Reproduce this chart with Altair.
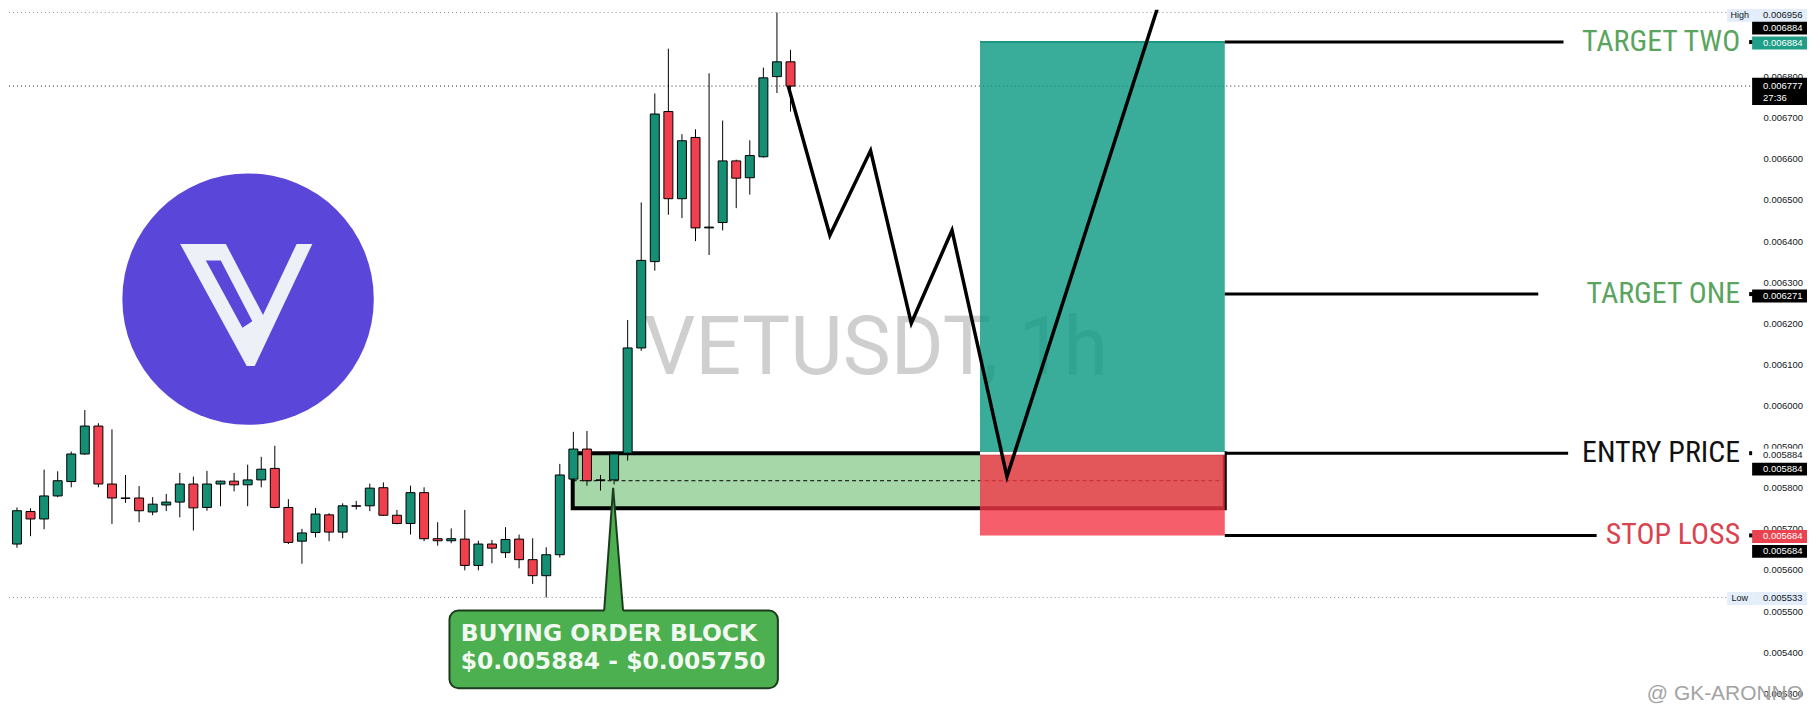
import altair as alt
import pandas as pd

# ---------------- data ----------------
opens = [0.005592, 0.005663, 0.005742, 0.005724, 0.005780, 0.005815, 0.005882, 0.005950, 0.005809, 0.005775,
         0.005775, 0.005741, 0.005758, 0.005765, 0.005809, 0.005752, 0.005809, 0.005816, 0.005807, 0.005819,
         0.005847, 0.005752, 0.005670, 0.005691, 0.005734, 0.005692, 0.005756, 0.005756, 0.005800, 0.005733,
         0.005713, 0.005788, 0.005676, 0.005671, 0.005675, 0.005611, 0.005663, 0.005642, 0.005675, 0.005625,
         0.005586, 0.005637, 0.005821, 0.005894, 0.005818, 0.005819, 0.005884, 0.006140, 0.006350, 0.006715,
         0.006503, 0.006652, 0.006432, 0.006445, 0.006595, 0.006554, 0.006605, 0.006800, 0.006836]
highs = [0.005669, 0.005752, 0.005750, 0.005844, 0.005840, 0.005888, 0.005989, 0.005957, 0.005942, 0.005831,
         0.005804, 0.005777, 0.005785, 0.005836, 0.005827, 0.005841, 0.005817, 0.005836, 0.005856, 0.005875,
         0.005902, 0.005772, 0.005700, 0.005751, 0.005738, 0.005762, 0.005768, 0.005810, 0.005813, 0.005746,
         0.005805, 0.005801, 0.005716, 0.005701, 0.005746, 0.005671, 0.005673, 0.005704, 0.005686, 0.005677,
         0.005655, 0.005858, 0.005936, 0.005938, 0.005831, 0.005882, 0.006208, 0.006494, 0.006759, 0.006868,
         0.006660, 0.006672, 0.006808, 0.006693, 0.006598, 0.006645, 0.006822, 0.006956, 0.006865]
lows = [0.005574, 0.005654, 0.005682, 0.005699, 0.005777, 0.005801, 0.005880, 0.005801, 0.005712, 0.005763,
        0.005716, 0.005733, 0.005743, 0.005728, 0.005696, 0.005744, 0.005755, 0.005791, 0.005755, 0.005801,
        0.005750, 0.005663, 0.005615, 0.005679, 0.005670, 0.005677, 0.005747, 0.005743, 0.005732, 0.005711,
        0.005686, 0.005670, 0.005659, 0.005665, 0.005599, 0.005599, 0.005616, 0.005629, 0.005604, 0.005566,
        0.005533, 0.005630, 0.005821, 0.005805, 0.005793, 0.005808, 0.005866, 0.006133, 0.006328, 0.006464,
        0.006456, 0.006400, 0.006366, 0.006426, 0.006480, 0.006513, 0.006603, 0.006760, 0.006715]
closes = [0.005663, 0.005744, 0.005724, 0.005780, 0.005817, 0.005882, 0.005950, 0.005809, 0.005775, 0.005774,
          0.005744, 0.005760, 0.005765, 0.005809, 0.005751, 0.005809, 0.005816, 0.005807, 0.005819, 0.005845,
          0.005752, 0.005667, 0.005690, 0.005736, 0.005692, 0.005756, 0.005755, 0.005799, 0.005733, 0.005713,
          0.005788, 0.005676, 0.005671, 0.005676, 0.005611, 0.005663, 0.005653, 0.005674, 0.005625, 0.005586,
          0.005637, 0.005831, 0.005894, 0.005817, 0.005819, 0.005882, 0.006140, 0.006353, 0.006709, 0.006503,
          0.006644, 0.006432, 0.006434, 0.006595, 0.006553, 0.006608, 0.006797, 0.006836, 0.006777]

# projected path (bar index, price)
path_idx = [57.83, 60.9, 63.9, 66.9, 69.9, 73.95, 85.9]
path_price = [0.006777, 0.006414, 0.006620, 0.006200, 0.006426, 0.005827, 0.007055]

TARGET_TWO = 0.006884
TARGET_ONE = 0.006271
ENTRY = 0.005884
STOP = 0.005684
OB_LOW = 0.005750
OB_MID = 0.005817
HIGH = 0.006956
LOW = 0.005533
LAST = 0.006777
TIMER = "27:36"

# 0.006900 is fully hidden behind the price tags in the reference
tick_vals = [0.0053, 0.0054, 0.0055, 0.0056, 0.0057, 0.0058, 0.0059, 0.0060, 0.0061,
             0.0062, 0.0063, 0.0064, 0.0065, 0.0066, 0.0067, 0.0068]

# drawing spans in bar-index units
OB_START = 41.95
POS_START = 71.96
POS_END = 90.0
level_names = ["TARGET TWO", "TARGET ONE", "ENTRY PRICE", "STOP LOSS"]
level_prices = [TARGET_TWO, TARGET_ONE, ENTRY, STOP]
level_line_end = [114.96, 113.1, 115.3, 117.4]
level_colors = ["#5aa55e", "#5aa55e", "#111111", "#d9434f"]

# callout box / pointer (bar index, price)
callout_x = [32.87, 57.07]
callout_p = [0.0053121, 0.0055014]
pointer_x = [44.27, 44.93, 45.66]
pointer_p = [0.0055014, 0.0057998, 0.0055014]
callout_lines = ["BUYING ORDER BLOCK", "$0.005884 - $0.005750"]
callout_text_x = 33.70
callout_text_p = [0.0054449, 0.0053760]

# ---------------- scales ----------------
W, H = 1747, 690
XS = alt.Scale(domain=[0.781, 128.49], nice=False, zero=False)
YS = alt.Scale(domain=[0.0052879, 0.0069626], nice=False, zero=False)
yaxis = alt.Axis(orient="right", values=tick_vals, format=".6f", title=None, ticks=False,
                 domain=False, grid=False, labelPadding=11, labelFont="Liberation Sans",
                 labelFontSize=9.5, labelColor="#131722", labelFlush=False, labelOverlap=False)


def X(f):
    return alt.X(f, type="quantitative", scale=XS, axis=None)


def Y(f):
    return alt.Y(f, type="quantitative", scale=YS, axis=yaxis)


layers = []

# dotted reference lines
dots = pd.DataFrame({"p": [HIGH, LOW]})
layers.append(alt.Chart(dots).mark_rule(color="#9598a1", strokeWidth=1, strokeDash=[1, 3]).encode(
    x=alt.value(0), x2=alt.value(1722), y=Y("p")))
layers.append(alt.Chart(pd.DataFrame({"p": [LAST]})).mark_rule(color="#222222", strokeWidth=1, strokeDash=[1, 3]).encode(
    x=alt.value(0), x2=alt.value(W), y=Y("p")))

# watermark
layers.append(alt.Chart(pd.DataFrame({"i": [64.3], "p": [0.006134], "t": ["VETUSDT, 1h"]})).mark_text(
    font="Roboto", fontSize=81, color="#cfcfcf", align="center", baseline="middle").encode(
    x=X("i"), y=Y("p"), text="t"))

# logo
logo = pd.DataFrame({"i": [18.03], "p": [0.0062587]})
layers.append(alt.Chart(logo).mark_point(shape="circle", size=63504, filled=True, color="#5b46da", opacity=1).encode(
    x=X("i"), y=Y("p")))
VPATH = ("M-0.540,-0.439 L-0.177,-0.439 L0.119,0.127 L0.386,-0.439 L0.511,-0.439 "
         "L0.053,0.532 L-0.011,0.532 Z M-0.336,-0.307 L-0.045,0.228 L0.034,0.175 L-0.217,-0.307 Z")
layers.append(alt.Chart(logo).mark_point(shape=VPATH, size=63504, filled=True, color="#eef0f8", opacity=1).encode(
    x=X("i"), y=Y("p")))

# order block
ob = pd.DataFrame({"x0": [OB_START], "x1": [POS_END], "y0": [OB_LOW], "y1": [ENTRY]})
layers.append(alt.Chart(ob).mark_rect(fill="#a6d7a8", stroke="#000000", strokeWidth=4).encode(
    x=X("x0"), x2="x1", y=Y("y0"), y2="y1"))
layers.append(alt.Chart(pd.DataFrame({"x0": [OB_START], "x1": [POS_END], "p": [OB_MID]})).mark_rule(
    color="#000000", strokeWidth=1, strokeDash=[4, 3]).encode(x=X("x0"), x2="x1", y=Y("p")))

# position boxes
zones = pd.DataFrame({"x0": [POS_START, POS_START], "x1": [POS_END, POS_END],
                      "y0": [ENTRY, STOP], "y1": [TARGET_TWO, ENTRY], "c": ["#089981", "#f23645"]})
layers.append(alt.Chart(zones).mark_rect(opacity=0.8).encode(
    x=X("x0"), x2="x1", y=Y("y0"), y2="y1", color=alt.Color("c:N", scale=None)))
layers.append(alt.Chart(pd.DataFrame({"x0": [POS_START], "x1": [POS_END], "p": [TARGET_TWO]})).mark_rule(
    color="#1f9682", strokeWidth=2).encode(x=X("x0"), x2="x1", y=Y("p")))
layers.append(alt.Chart(pd.DataFrame({"x0": [POS_START], "x1": [POS_END], "p": [ENTRY]})).mark_rule(
    color="#ffffff", strokeWidth=3).encode(x=X("x0"), x2="x1", y=Y("p")))

# level lines on the right
lv = pd.DataFrame({"x0": [POS_END] * 4, "x1": level_line_end, "p": level_prices,
                   "t": level_names, "c": level_colors})
layers.append(alt.Chart(lv).mark_rule(color="#000000", strokeWidth=3).encode(x=X("x0"), x2="x1", y=Y("p")))

# candles
cd = pd.DataFrame({"i": list(range(len(opens))), "o": opens, "h": highs, "l": lows, "c": closes})
cd["col"] = ["#158f74" if c >= o else "#f0404e" for o, c in zip(opens, closes)]
layers.append(alt.Chart(cd).mark_rule(color="#000000", strokeWidth=1, clip=True).encode(
    x=X("i"), y=Y("l"), y2="h"))
layers.append(alt.Chart(cd).mark_bar(size=9, stroke="#000000", strokeWidth=1, clip=True).encode(
    x=X("i"), y=Y("o"), y2="c", fill=alt.Fill("col:N", scale=None)))

# projected path
pp = pd.DataFrame({"i": path_idx, "p": path_price, "k": list(range(len(path_idx)))})
layers.append(alt.Chart(pp).mark_line(color="#000000", strokeWidth=3.5, clip=True, strokeJoin="miter").encode(
    x=X("i"), y=Y("p"), order="k:Q"))

# callout
box = pd.DataFrame({"x0": [callout_x[0]], "x1": [callout_x[1]], "y0": [callout_p[0]], "y1": [callout_p[1]]})
layers.append(alt.Chart(box).mark_rect(fill="#4caf50", stroke="#1d3b1e", strokeWidth=2, cornerRadius=9).encode(
    x=X("x0"), x2="x1", y=Y("y0"), y2="y1"))
ptr = pd.DataFrame({"p": [pointer_p[1], pointer_p[0] - 0.000005],
                    "l": [pointer_x[1], pointer_x[0]], "r": [pointer_x[1], pointer_x[2]]})
layers.append(alt.Chart(ptr).mark_area(orient="horizontal", color="#4caf50", opacity=1).encode(
    y=Y("p"), x=X("l"), x2="r"))
ptr_edge = pd.DataFrame({"i": pointer_x, "p": pointer_p, "k": [0, 1, 2]})
layers.append(alt.Chart(ptr_edge).mark_line(color="#1d3b1e", strokeWidth=2).encode(
    x=X("i"), y=Y("p"), order="k:Q"))
ctext = pd.DataFrame({"i": [callout_text_x] * 2, "p": callout_text_p, "t": callout_lines})
layers.append(alt.Chart(ctext).mark_text(font="DejaVu Sans", fontWeight="bold", fontSize=23.5, color="#f1f8f1",
                                         align="left", baseline="middle").encode(x=X("i"), y=Y("p"), text="t"))

# level labels
layers.append(alt.Chart(lv).mark_text(
    font="Liberation Sans Narrow, Roboto Condensed, DejaVu Sans Condensed, Liberation Sans",
    fontSize=30, align="right", baseline="middle").encode(
    x=alt.value(1735), y=Y("p"), text="t", color=alt.Color("c:N", scale=None)))
layers.append(alt.Chart(lv).mark_square(size=16, color="#000000", opacity=1).encode(
    x=alt.value(1746), y=Y("p")))

# price-scale tags
TAG = "M-1,-0.236 L1,-0.236 L1,0.236 L-1,0.236 Z"
tags = [
    (HIGH, 3, "#e3eefa", "#131722", "0.006956"),
    (TARGET_TWO, -14, "#000000", "#ffffff", "0.006884"),
    (TARGET_TWO, 1, "#1f9e88", "#ffffff", "0.006884"),
    (TARGET_ONE, 2, "#000000", "#ffffff", "0.006271"),
    (ENTRY, 2, "#ffffff", "#131722", "0.005884"),
    (ENTRY, 16, "#000000", "#ffffff", "0.005884"),
    (STOP, 1, "#e8434f", "#ffffff", "0.005684"),
    (STOP, 16, "#000000", "#ffffff", "0.005684"),
    (LOW, 1, "#e3eefa", "#131722", "0.005533"),
]
for price, dy, bg, fg, txt in tags:
    d = pd.DataFrame({"p": [price], "t": [txt]})
    layers.append(alt.Chart(d).mark_point(shape=TAG, size=3025, filled=True, color=bg, opacity=1,
                                          yOffset=dy).encode(x=alt.value(1774.5), y=Y("p")))
    layers.append(alt.Chart(d).mark_text(font="Liberation Sans", fontSize=9.5, color=fg, align="left",
                                         baseline="middle", yOffset=dy).encode(x=alt.value(1758), y=Y("p"), text="t"))

# current price tag (two lines)
cur = pd.DataFrame({"p": [LAST], "t": ["0.006777"], "timer": [TIMER]})
layers.append(alt.Chart(cur).mark_point(shape="M-1,-0.3 L1,-0.3 L1,0.69 L-1,0.69 Z", size=3025, filled=True,
                                        color="#000000", opacity=1).encode(x=alt.value(1774.5), y=Y("p")))
layers.append(alt.Chart(cur).mark_text(font="Liberation Sans", fontSize=9.5, color="#ffffff", align="left",
                                       baseline="middle").encode(x=alt.value(1758), y=Y("p"), text="t"))
layers.append(alt.Chart(cur).mark_text(font="Liberation Sans", fontSize=9.5, color="#ffffff", align="left",
                                       baseline="middle", yOffset=12).encode(x=alt.value(1758), y=Y("p"), text="timer"))

# High / Low markers
for price, dy, txt in [(HIGH, 3, "High"), (LOW, 1, "Low")]:
    d = pd.DataFrame({"p": [price], "t": [txt]})
    layers.append(alt.Chart(d).mark_point(shape="M-1,-0.52 L1,-0.52 L1,0.52 L-1,0.52 Z", size=625, filled=True,
                                          color="#e3eefa", opacity=1, yOffset=dy).encode(x=alt.value(1734.5), y=Y("p")))
    layers.append(alt.Chart(d).mark_text(font="Liberation Sans", fontSize=9, color="#131722", align="center",
                                         baseline="middle", yOffset=dy).encode(x=alt.value(1734.5), y=Y("p"), text="t"))

# signature
layers.append(alt.Chart(pd.DataFrame({"t": ["@ GK-ARONNO"]})).mark_text(
    font="Liberation Sans", fontSize=21, color="#a3a3a3", align="right", baseline="middle").encode(
    x=alt.value(1798), y=alt.value(686), text="t"))

chart = alt.layer(*layers).properties(width=W, height=H, padding=0).configure_view(stroke=None)
chart.save("out.html", embed_options={"renderer": "svg", "actions": False})
